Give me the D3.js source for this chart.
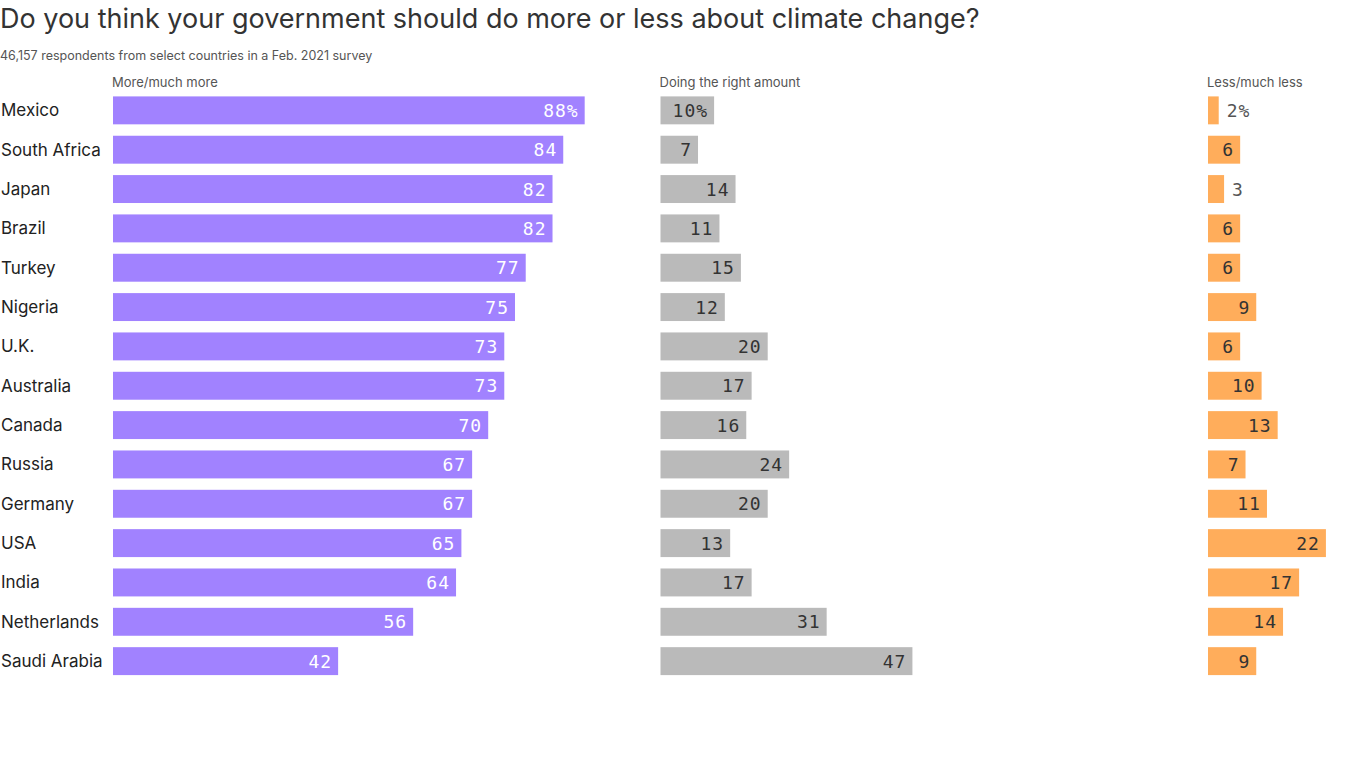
<!DOCTYPE html>
<html>
<head>
<meta charset="utf-8">
<script src="https://cdn.jsdelivr.net/npm/d3@7"></script>
<style>
  body { margin: 0; background: #fff; }
  text { font-family: Inter, "Noto Sans", sans-serif; }
  .val { font-family: "DejaVu Sans Mono", "Liberation Mono", monospace; letter-spacing: 1px; }
</style>
</head>
<body>
<svg id="chart" width="1366" height="768"></svg>
<script>
// data
var countries = ["Mexico", "South Africa", "Japan", "Brazil", "Turkey", "Nigeria", "U.K.", "Australia",
  "Canada", "Russia", "Germany", "USA", "India", "Netherlands", "Saudi Arabia"];
var more = [88, 84, 82, 82, 77, 75, 73, 73, 70, 67, 67, 65, 64, 56, 42];
var right = [10, 7, 14, 11, 15, 12, 20, 17, 16, 24, 20, 13, 17, 31, 47];
var less = [2, 6, 3, 6, 6, 9, 6, 10, 13, 7, 11, 22, 17, 14, 9];
var headers = ["More/much more", "Doing the right amount", "Less/much less"];
var colors = ["#a182ff", "#bababa", "#ffad5b"];
var textColors = ["#fff", "#333", "#333"];

var svg = d3.select("#chart");

svg.append("text").attr("x", 0).attr("y", 28)
  .style("font-size", "27px").style("fill", "#333")
  .text("Do you think your government should do more or less about climate change?");
svg.append("text").attr("x", 0).attr("y", 60)
  .style("font-size", "12.5px").style("fill", "#555")
  .text("46,157 respondents from select countries in a Feb. 2021 survey");

var y = d3.scaleBand()
  .domain(countries)
  .range([90.5, 681])
  .paddingInner(0.29)
  .paddingOuter(0.15);

var panelX = d3.scaleBand()
  .domain([0, 1, 2])
  .range([113, 1755.5]);

var x = d3.scaleLinear().domain([0, 100]).range([0, 536]);

svg.selectAll(".country")
  .data(countries)
  .enter().append("text")
    .attr("class", "country")
    .attr("x", 1)
    .attr("y", function(d) { return y(d) + y.bandwidth() / 2; })
    .attr("dy", "0.35em")
    .style("font-size", "17px")
    .style("fill", "#222")
    .text(function(d) { return d; });

[more, right, less].forEach(function(series, p) {
  var g = svg.append("g").attr("transform", "translate(" + panelX(p) + ",0)");

  g.append("text").attr("x", -1).attr("y", 87)
    .style("font-size", "13px").style("fill", "#555")
    .text(headers[p]);

  var row = g.selectAll(".row")
    .data(series)
    .enter().append("g")
      .attr("transform", function(d, i) { return "translate(0," + y(countries[i]) + ")"; });

  row.append("rect")
    .attr("width", function(d) { return x(d); })
    .attr("height", y.bandwidth())
    .style("fill", colors[p]);

  row.append("text")
    .attr("class", "val")
    .attr("y", y.bandwidth() / 2)
    .attr("dy", "0.36em")
    .style("font-size", "18px")
    .each(function(d, i) {
      var label = d + (i === 0 ? "%" : "");
      var el = d3.select(this).text(label);
      var w = this.getComputedTextLength();
      if (w + 10 > x(d)) {
        el.attr("x", x(d) + 8).attr("text-anchor", "start").style("fill", "#555");
      } else {
        el.attr("x", x(d) - 6).attr("text-anchor", "end").style("fill", textColors[p]);
      }
    });
});
</script>
</body>
</html>
